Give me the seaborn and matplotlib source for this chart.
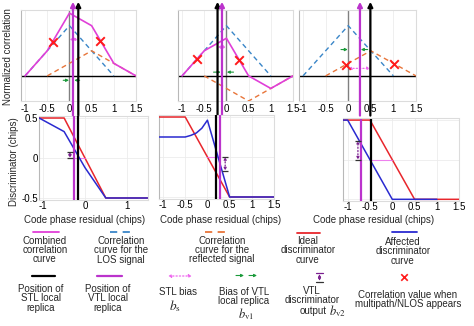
import matplotlib
matplotlib.use("Agg")
import matplotlib.pyplot as plt
import seaborn as sns

# ---------------- data ----------------
tick_vals = [-1, -0.5, 0, 0.5, 1, 1.5]
tick_labels = ["-1", "-0.5", "0", "0.5", "1", "1.5"]
bot1_tick_vals = [-1, 0, 1]
bot1_tick_labels = ["-1", "0", "1"]
disc_tick_vals = [-0.5, 0, 0.5]
disc_tick_labels = ["-0.5", "0", "0.5"]

# top row (correlation)
los_x = [-1, 0, 1]
los_y = [0, 0.8, 0]
refl_x = [-0.5, 0.5, 1.5]
refl_y = [[0, 0.4, 0], [0, -0.4, 0], [0, 0.4, 0]]
comb_x = [-1, -0.5, 0, 0.5, 1, 1.5]
comb_y = [[0, 0.4, 1.0, 0.8, 0.2, 0], [0, 0.4, 0.6, 0.0, -0.2, 0], None]
star_x = [[-0.38, 0.7], [-0.66, 0.28], [-0.05, 1.02]]
star_y = [[0.54, 0.56], [0.27, 0.26], [0.18, 0.19]]
stl_top = [0.2, -0.2, 0.49]
vtl_top = [0.08, -0.1, 0.26]
sbias_y = [0.58, 0.46, 0.12]
sbias_x0 = [0.0, -0.2, 0.0]
sbias_x1 = [0.2, 0.0, 0.49]
gbias_y = [-0.07, 0.06, 0.42]
gbias_r0 = [-0.14, -0.29, -0.16]
gbias_r1 = [-0.01, -0.13, -0.01]
gbias_l0 = [0.23, 0.16, 0.43]
gbias_l1 = [0.11, 0.01, 0.28]

# bottom row (discriminator)
ideal_x = [-1.1, -0.5, 0.5, 1.5]
ideal_y = [0.5, 0.5, -0.5, -0.5]
aff_x = [[-1.1, -0.5, 0, 0.5, 1.5],
         [-1.1, -0.5, -0.375, -0.25, -0.125, 0, 0.5, 1.5],
         [-1.1, -1, 0, 1]]
aff_y = [[0.5, 0.33, -0.12, -0.5, -0.5],
         [0.25, 0.25, 0.27, 0.30, 0.36, 0.46, -0.5, -0.5],
         [0.5, 0.5, -0.5, -0.5]]
stl_bot = [-0.17, 0.2, -0.48]
vtl_bot = [-0.26, 0.29, -0.71]
pz_x0 = [-0.4, 0.0, -0.48]
pz_x1 = [0.0, 0.29, 0.0]
vd_x = [-0.36, 0.4, -0.77]
vd_y0 = [0.0, 0.0, 0.0]
vd_y1 = [0.08, -0.17, 0.24]

# ---------------- style ----------------
C_COMB = "#e03fd8"
C_VTL = "#bb33cc"
C_PINK = "#ee66ee"
C_LOS = "#3a86c8"
C_REFL = "#e8753a"
C_IDEAL = "#e8262c"
C_AFF = "#2a2ad0"
C_GREEN = "#1a9a3a"
C_STAR = "#ff1a1a"
C_VD = "#7a1f8f"

sns.set_theme(style="white")
plt.rcParams["font.family"] = ["Liberation Sans", "DejaVu Sans"]
plt.rcParams["mathtext.fontset"] = "stix"
FS = 7

W, H = 474, 326
fig = plt.figure(figsize=(W / 100, H / 100), dpi=100)


def rect(l, t, r, b):
    return [l / W, 1 - b / H, (r - l) / W, (b - t) / H]


top_rects = [rect(20.6, 10, 136, 101), rect(177.6, 10, 293, 101), rect(298.5, 10, 416, 101)]
bot_rects = [rect(39.1, 116.4, 147.5, 199.6), rect(158.6, 115.4, 274, 198.6), rect(343.2, 118.5, 459.2, 200.9)]


def style_ax(ax):
    ax.set_facecolor("white")
    for s in ax.spines.values():
        s.set_color("#dcdcdc")
        s.set_linewidth(0.8)
    ax.spines["left"].set_color("#b8b8b8")
    ax.tick_params(length=0, labelsize=FS, pad=1.0, colors="black")
    ax.set_xlim(-1.1, 1.5)


def arrow(ax, x0, y0, x1, y1, color, style="-|>", lw=0.8, ms=5, ls="-", **kw):
    ax.annotate("", xy=(x1, y1), xytext=(x0, y0),
                arrowprops=dict(arrowstyle=style, color=color, lw=lw, mutation_scale=ms,
                                shrinkA=0, shrinkB=0, linestyle=ls), **kw)


for i in range(3):
    ax = fig.add_axes(top_rects[i])
    style_ax(ax)
    ax.tick_params(pad=2.0)
    ax.set_ylim(-0.4, 1.05)
    ax.set_xticks(tick_vals)
    ax.set_xticklabels(tick_labels)
    ax.set_yticks([])
    ax.grid(axis="x", color="#ececec", lw=0.6)
    ax.axvline(0, color="#808080", lw=1.0, zorder=2)
    ax.axhline(0, color="black", lw=1.0, zorder=2)
    sns.lineplot(x=los_x, y=los_y, ax=ax, color=C_LOS, lw=1.0, linestyle=(0, (3.5, 2.5)), zorder=3)
    sns.lineplot(x=refl_x, y=refl_y[i], ax=ax, color=C_REFL, lw=1.0, linestyle=(0, (3.5, 2.5)), zorder=3)
    if comb_y[i] is not None:
        sns.lineplot(x=comb_x, y=comb_y[i], ax=ax, color=C_COMB, lw=1.2, zorder=4)
    sns.scatterplot(x=star_x[i], y=star_y[i], ax=ax, marker="x", color=C_STAR, s=38,
                    linewidth=1.4, zorder=6)
    # STL bias (pink dotted double arrow)
    arrow(ax, sbias_x0[i], sbias_y[i], sbias_x1[i], sbias_y[i], C_PINK, style="<|-|>", lw=0.9, ms=4, ls=":")
    # VTL bias (green arrows)
    arrow(ax, gbias_r0[i], gbias_y[i], gbias_r1[i], gbias_y[i], C_GREEN, lw=0.8, ms=4)
    arrow(ax, gbias_l0[i], gbias_y[i], gbias_l1[i], gbias_y[i], C_GREEN, lw=0.8, ms=4)
    # replica positions (long vertical arrows)
    for xv, col in ((stl_top[i], "black"), (vtl_top[i], C_VTL)):
        ax.annotate("", xy=(xv, 1.09), xycoords=("data", "axes fraction"),
                    xytext=(xv, -0.16), textcoords=("data", "axes fraction"),
                    arrowprops=dict(arrowstyle="-|>", color=col, lw=1.6, mutation_scale=7,
                                    shrinkA=0, shrinkB=0),
                    annotation_clip=False, zorder=7)

for i in range(3):
    ax = fig.add_axes(bot_rects[i])
    style_ax(ax)
    ax.set_ylim(-0.52, 0.52)
    if i == 0:
        ax.set_xticks(bot1_tick_vals)
        ax.set_xticklabels(bot1_tick_labels)
        ax.set_yticks(disc_tick_vals)
        ax.set_yticklabels(disc_tick_labels)
    else:
        ax.set_xticks(tick_vals)
        ax.set_xticklabels(tick_labels)
        ax.set_yticks(disc_tick_vals)
        ax.set_yticklabels([])
    ax.grid(True, color="#ececec", lw=0.6)
    sns.lineplot(x=ideal_x, y=ideal_y, ax=ax, color=C_IDEAL, lw=1.1, zorder=3)
    sns.lineplot(x=aff_x[i], y=aff_y[i], ax=ax, color=C_AFF, lw=1.1, zorder=4)
    ax.plot([pz_x0[i], pz_x1[i]], [0, 0], color=C_PINK, lw=0.8, alpha=0.8, zorder=3)
    ax.axvline(stl_bot[i], color="black", lw=1.6, zorder=6)
    ax.axvline(vtl_bot[i], color=C_VTL, lw=1.6, zorder=6)
    # VTL discriminator output marker
    ax.hlines([vd_y0[i], vd_y1[i]], vd_x[i] - 0.07, vd_x[i] + 0.07, color="#333333", lw=0.9, zorder=7)
    arrow(ax, vd_x[i], vd_y0[i], vd_x[i], vd_y1[i], C_VD, style="<|-|>", lw=0.9, ms=3.5, ls=":")

# ---------------- labels & legend overlay ----------------
lg = fig.add_axes([0, 0, 1, 1])
lg.set_xlim(0, W)
lg.set_ylim(H, 0)
lg.axis("off")
lg.patch.set_alpha(0)

lg.text(8, 57, "Normalized correlation", rotation=90, ha="center", va="center", fontsize=FS)
lg.text(14, 162, "Discriminator (chips)", rotation=90, ha="center", va="center", fontsize=FS)
for xc in (85, 221, 374):
    lg.text(xc, 220, "Code phase residual (chips)", ha="center", va="center", fontsize=FS)


def mtext(x, y0, lines, step=9.4):
    for k, s in enumerate(lines):
        lg.text(x, y0 + k * step, s, ha="center", va="center", fontsize=FS)


# row 1
lg.plot([33, 59], [232, 232], color=C_COMB, lw=1.3)
mtext(45, 240.5, ["Combined", "correlation", "curve"])
lg.plot([110, 133], [232, 232], color=C_LOS, lw=1.3, linestyle=(0, (4, 3)))
mtext(121, 241, ["Correlation", "curve for the", "LOS signal"])
lg.plot([205, 230], [232, 232], color=C_REFL, lw=1.3, linestyle=(0, (4, 3)))
mtext(222, 240.5, ["Correlation", "curve for the", "reflected signal"])
lg.plot([297, 320], [232.5, 232.5], color=C_IDEAL, lw=1.3)
mtext(308, 241, ["Ideal", "discriminator", "curve"])
lg.plot([392, 417], [232, 232], color=C_AFF, lw=1.3)
mtext(403, 242, ["Affected", "discriminator", "curve"])

# row 2
lg.plot([32, 55], [276, 276], color="black", lw=1.6)
mtext(41, 289, ["Position of", "STL local", "replica"])
lg.plot([97, 122], [276, 276], color=C_VTL, lw=1.6)
mtext(108, 289, ["Position of", "VTL local", "replica"])
arrow(lg, 168, 276, 192, 276, C_PINK, style="<|-|>", lw=0.9, ms=4, ls=":")
mtext(178, 292, ["STL bias"])
lg.text(175, 306, r"$b_{\rm s}$", ha="center", va="center", fontsize=9.5)
arrow(lg, 236, 275.5, 244, 275.5, C_GREEN, lw=0.8, ms=4)
arrow(lg, 249, 275.5, 257, 275.5, C_GREEN, lw=0.8, ms=4)
mtext(244, 292, ["Bias of VTL", "local replica"], step=9.0)
lg.text(246, 314.5, r"$b_{\rm v1}$", ha="center", va="center", fontsize=9)
lg.plot([316, 323], [282, 282], color="#333333", lw=0.9)
lg.plot([316, 323], [273, 273], color=C_VD, lw=0.9)
arrow(lg, 319.5, 281, 319.5, 274, C_VD, style="<|-|>", lw=0.9, ms=3.5, ls=":")
mtext(312, 291, ["VTL", "discriminator"], step=9.0)
lg.text(313, 310.5, "output", ha="center", va="center", fontsize=FS)
lg.text(337, 311.5, r"$b_{\rm v2}$", ha="center", va="center", fontsize=9)
lg.scatter([404], [277], marker="x", color=C_STAR, s=22, linewidths=1.2)
mtext(408, 295, ["Correlation value when", "multipath/NLOS appears"])

fig.savefig("out.png", dpi=100)
